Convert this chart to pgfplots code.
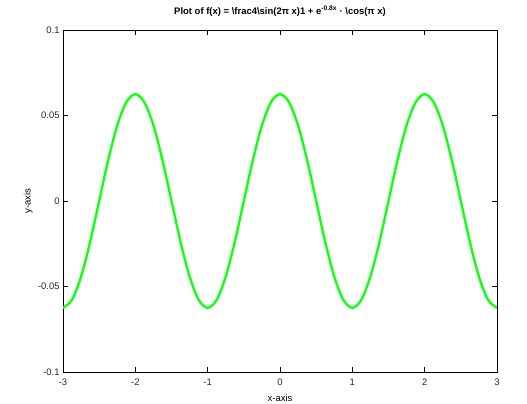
\documentclass[border=0pt]{standalone}
\usepackage{pgfplots}
\pgfplotsset{compat=1.18}
\usepackage{fontspec}
\setmainfont{Liberation Sans}

\definecolor{curvegreen}{RGB}{20,255,20}

\pgfplotstableread{
x y
-3 -0.0625
-2.875 -0.05774
-2.75 -0.04419
-2.625 -0.02392
-2.5 0
-2.375 0.02392
-2.25 0.04419
-2.125 0.05774
-2 0.0625
-1.875 0.05774
-1.75 0.04419
-1.625 0.02392
-1.5 0
-1.375 -0.02392
-1.25 -0.04419
-1.125 -0.05774
-1 -0.0625
-0.875 -0.05774
-0.75 -0.04419
-0.625 -0.02392
-0.5 0
-0.375 0.02392
-0.25 0.04419
-0.125 0.05774
0 0.0625
0.125 0.05774
0.25 0.04419
0.375 0.02392
0.5 0
0.625 -0.02392
0.75 -0.04419
0.875 -0.05774
1 -0.0625
1.125 -0.05774
1.25 -0.04419
1.375 -0.02392
1.5 0
1.625 0.02392
1.75 0.04419
1.875 0.05774
2 0.0625
2.125 0.05774
2.25 0.04419
2.375 0.02392
2.5 0
2.625 -0.02392
2.75 -0.04419
2.875 -0.05774
3 -0.0625
}\curvedata

\begin{document}
\fontsize{9.5}{11}\selectfont
\begin{tikzpicture}
\useasboundingbox (-63bp,-32bp) rectangle (464bp,372bp);
\begin{axis}[
    scale only axis,
    width=434bp, height=342bp,
    at={(0,0)}, anchor=south west,
    xmin=-3, xmax=3,
    ymin=-0.1, ymax=0.1,
    xtick={-3,-2,-1,0,1,2,3},
    ytick={-0.1,-0.05,0,0.05,0.1},
    yticklabels={-0.1,-0.05,0,0.05,0.1},
    /pgf/number format/assume math mode=true,
    tick align=inside,
    major tick length=5bp,
    axis line style={line width=0.6pt},
    tick style={line width=0.6pt, black},
    ticklabel style={font=\fontsize{9.5}{11}\selectfont, text=black!85},
    xticklabel style={yshift=-4bp},
    xlabel={x-axis},
    ylabel={y-axis},
    label style={font=\fontsize{9.5}{11}\selectfont},
    xlabel style={yshift=-2bp},
    ylabel style={yshift=-1bp},
    title={Plot of f(x) = {\textbackslash}frac4{\textbackslash}sin(2π x)1 + e\textsuperscript{-0.8x} · {\textbackslash}cos(π x)},
    title style={font=\bfseries\fontsize{9.5}{11}\selectfont, yshift=4bp},
]
\addplot[curvegreen, line width=2.4pt, smooth] table[x=x, y=y] {\curvedata};
\end{axis}
\end{tikzpicture}
\end{document}
